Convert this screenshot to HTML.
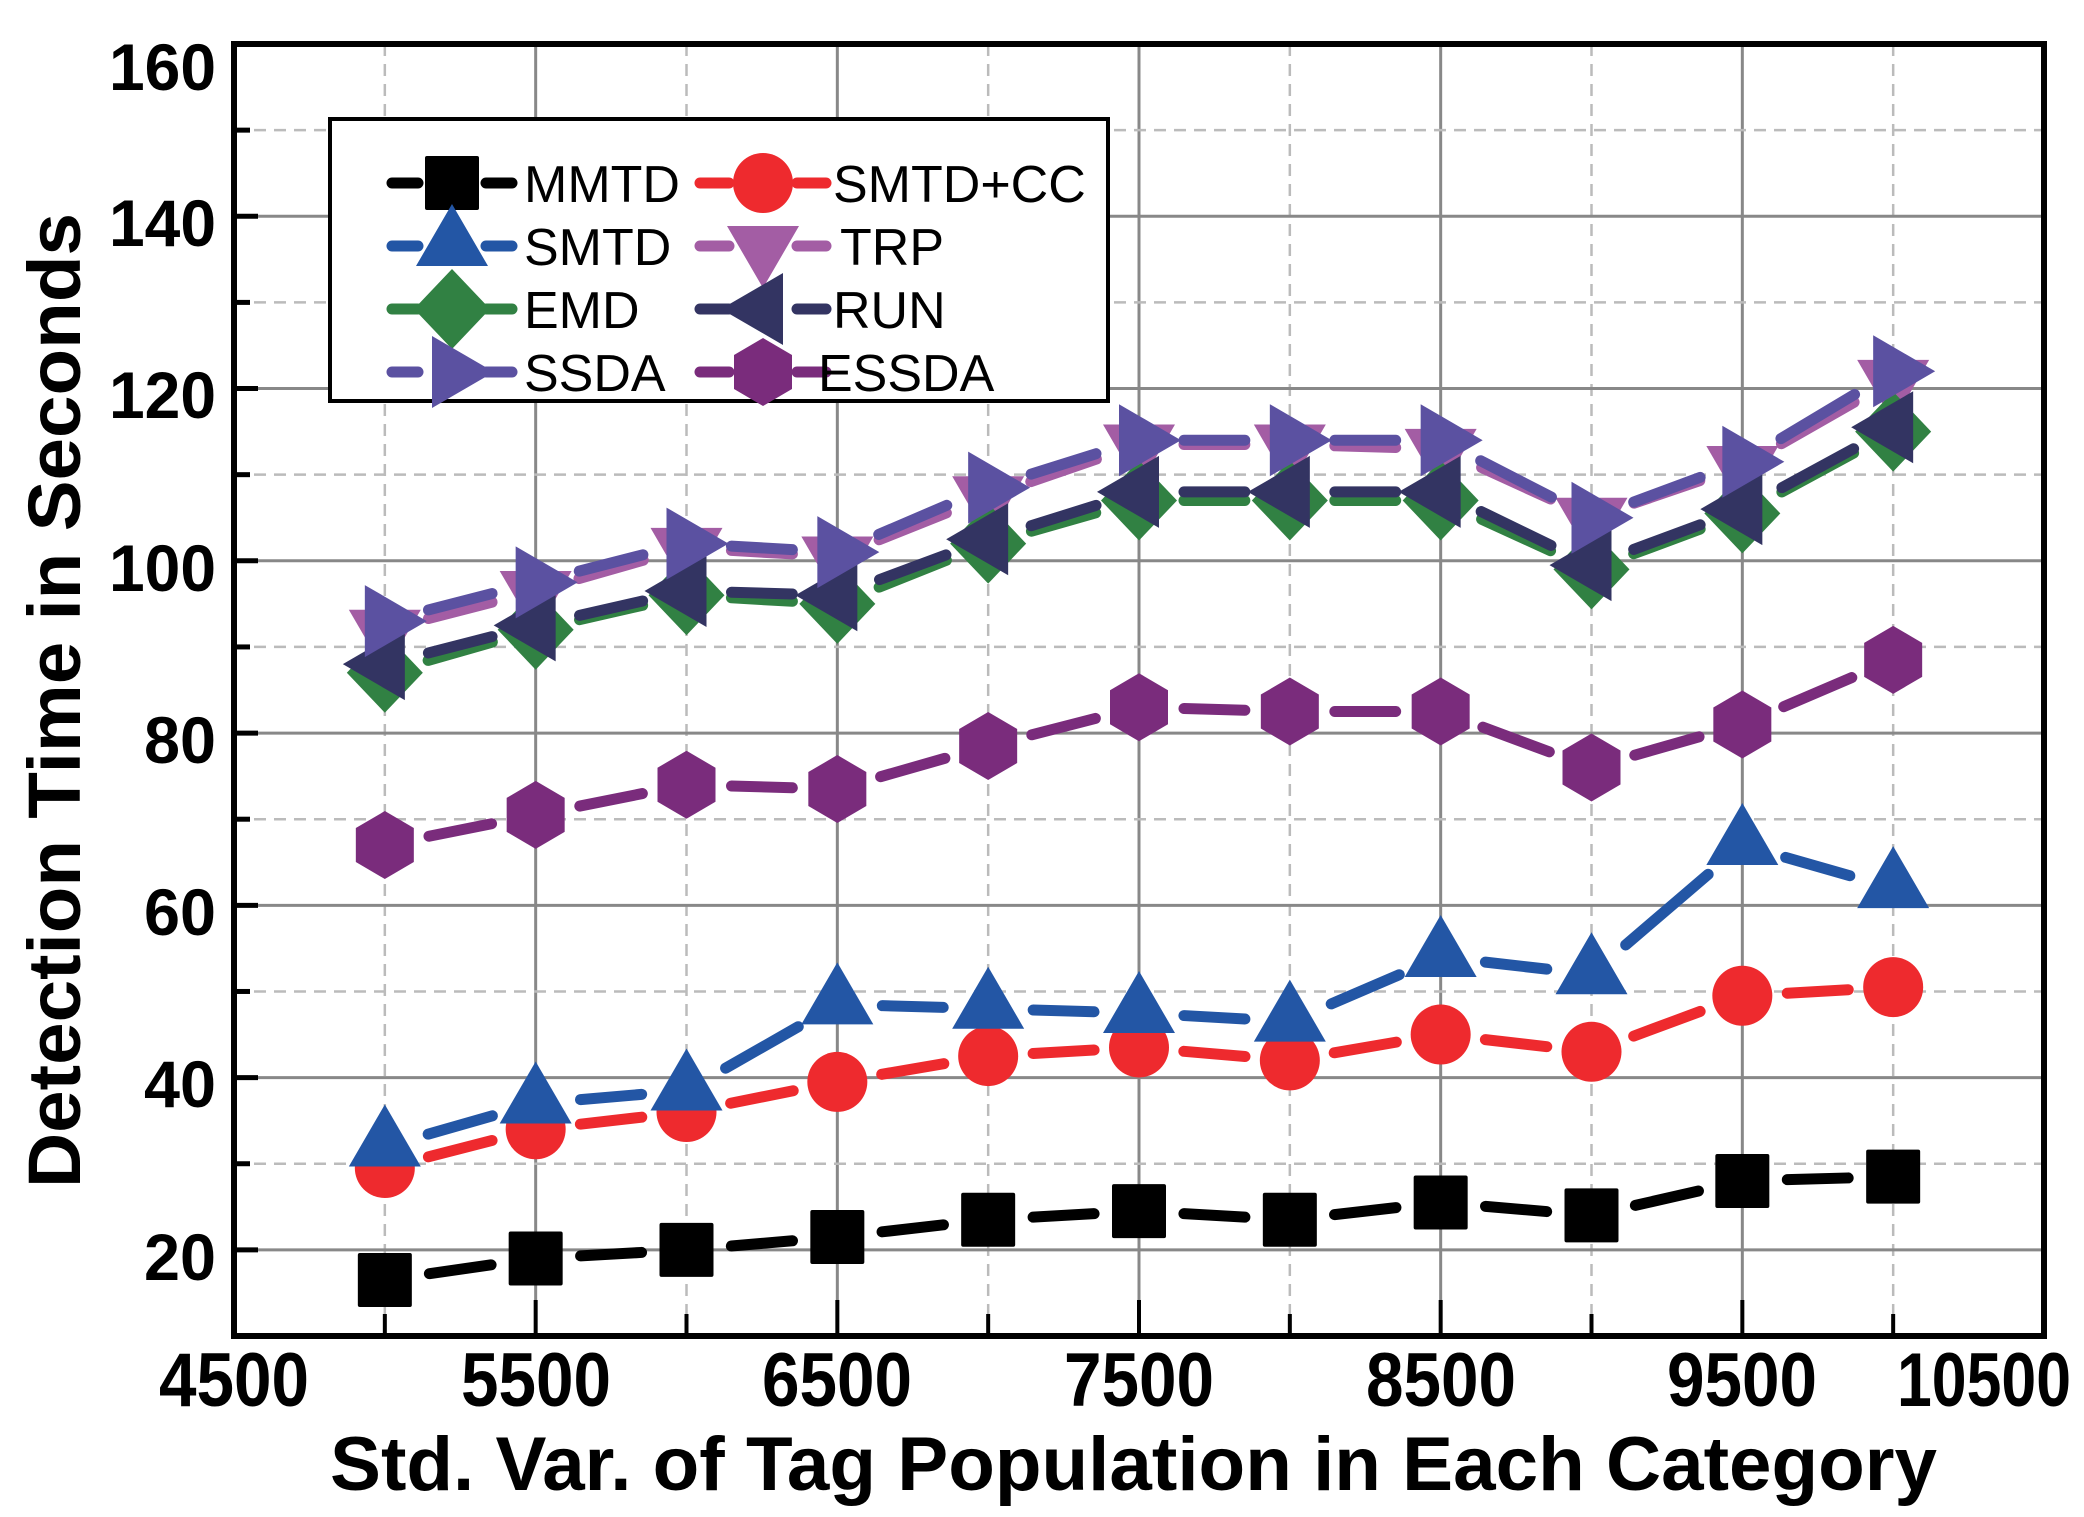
<!DOCTYPE html>
<html><head><meta charset="utf-8"><style>
html,body{margin:0;padding:0;background:#fff;}
svg{display:block;}
</style></head><body>
<svg id="s" width="2084" height="1517" viewBox="0 0 2084 1517" xmlns="http://www.w3.org/2000/svg" font-family="Liberation Sans, sans-serif">
<g id="grid"></g>
<g id="series"></g>
<rect x="234" y="44" width="1810" height="1292" fill="none" stroke="#000" stroke-width="6"/>
<g id="ticks"></g>
<g font-weight="bold" font-size="66" fill="#000" text-anchor="end" lengthAdjust="spacingAndGlyphs">
<text x="216" y="90" textLength="107" lengthAdjust="spacingAndGlyphs">160</text>
<text x="216" y="246" textLength="107" lengthAdjust="spacingAndGlyphs">140</text>
<text x="216" y="418" textLength="107" lengthAdjust="spacingAndGlyphs">120</text>
<text x="216" y="591" textLength="107" lengthAdjust="spacingAndGlyphs">100</text>
<text x="216" y="763" textLength="72" lengthAdjust="spacingAndGlyphs">80</text>
<text x="216" y="935" textLength="72" lengthAdjust="spacingAndGlyphs">60</text>
<text x="216" y="1107" textLength="72" lengthAdjust="spacingAndGlyphs">40</text>
<text x="216" y="1280" textLength="72" lengthAdjust="spacingAndGlyphs">20</text>
</g>
<g font-weight="bold" font-size="76" fill="#000" text-anchor="middle">
<text x="234" y="1406" textLength="150" lengthAdjust="spacingAndGlyphs">4500</text>
<text x="536" y="1406" textLength="150" lengthAdjust="spacingAndGlyphs">5500</text>
<text x="837" y="1406" textLength="150" lengthAdjust="spacingAndGlyphs">6500</text>
<text x="1139" y="1406" textLength="150" lengthAdjust="spacingAndGlyphs">7500</text>
<text x="1441" y="1406" textLength="150" lengthAdjust="spacingAndGlyphs">8500</text>
<text x="1742" y="1406" textLength="150" lengthAdjust="spacingAndGlyphs">9500</text>
<text x="1984" y="1406" textLength="174" lengthAdjust="spacingAndGlyphs">10500</text>
</g>
<text x="330" y="1490" font-weight="bold" font-size="76" textLength="1607" lengthAdjust="spacingAndGlyphs">Std. Var. of Tag Population in Each Category</text>
<text transform="translate(80,1188) rotate(-90)" font-weight="bold" font-size="74" textLength="975" lengthAdjust="spacingAndGlyphs">Detection Time in Seconds</text>
<rect x="330" y="119" width="778" height="282" fill="#fff" stroke="#000" stroke-width="4"/>
<g id="legend"></g>
<g font-size="52" fill="#000">
<text x="524" y="202">MMTD</text>
<text x="833" y="202">SMTD+CC</text>
<text x="524" y="265">SMTD</text>
<text x="840" y="265">TRP</text>
<text x="524" y="328">EMD</text>
<text x="833" y="328">RUN</text>
<text x="524" y="391">SSDA</text>
<text x="818" y="391">ESSDA</text>
</g>
</svg>
<script>
const NS="http://www.w3.org/2000/svg";
const X=v=>234+(v-4500)*1810/6000, Y=v=>1336-(v-10)*1292/150;
function el(p,t,a){const e=document.createElementNS(NS,t);for(const k in a)e.setAttribute(k,a[k]);p.appendChild(e);return e;}
const g=document.getElementById('grid'),tk=document.getElementById('ticks');
for(let v=5000;v<=10000;v+=500){const maj=(v%1000)==500;
 el(g,'line',{x1:X(v),x2:X(v),y1:44,y2:1336,stroke:maj?'#888':'#bbb','stroke-width':maj?3:2.5,'stroke-dasharray':maj?'':'12 8'});
 el(tk,'line',{x1:X(v),x2:X(v),y1:1336,y2:maj?1300:1314,stroke:'#000','stroke-width':4});}
for(let v=20;v<=150;v+=10){const maj=v%20==0;
 el(g,'line',{x1:234,x2:2044,y1:Y(v),y2:Y(v),stroke:maj?'#888':'#bbb','stroke-width':maj?3:2.5,'stroke-dasharray':maj?'':'12 8'});
 el(tk,'line',{x1:234,x2:maj?258:250,y1:Y(v),y2:Y(v),stroke:'#000','stroke-width':5});}
const xs=[5000,5500,6000,6500,7000,7500,8000,8500,9000,9500,10000];
const S=[
['sq','#000',[16.5,19,20,21.5,23.5,24.5,23.5,25.5,24,28,28.5]],
['ci','#ee2a2e',[29.5,34,36,39.5,42.5,43.5,42,45,43,49.5,50.5]],
['tu','#2356a5',[32,37,38.5,48.5,48,47.5,46.5,54,52,67,62]],
['td','#a35da4',[92,96.5,101.5,100.5,107.5,113.5,113.5,113,105,111,121]],
['di','#318143',[87,92,96,95,102,107,107,107,99,105.5,115]],
['tl','#333462',[88,92.5,96.5,96,102.5,108,108,108,99.5,106,115.5]],
['tr','#5b51a1',[93,97.5,102,101,108.5,114,114,114,105,111.5,122]],
['hx','#7a2c7c',[67,70.5,74,73.5,78.5,83,82.5,82.5,76,81,88.5]]];
function marker(p,t,c,x,y){
 if(t=='sq')el(p,'rect',{x:x-27,y:y-27,width:54,height:54,fill:c,rx:2});
 else if(t=='ci')el(p,'ellipse',{cx:x,cy:y,rx:30,ry:30,fill:c});
 else{let pts;
  if(t=='tu')pts=[[0,-42],[36,20],[-36,20]];
  if(t=='td')pts=[[0,42],[36,-20],[-36,-20]];
  if(t=='tl')pts=[[-42,0],[20,-36],[20,36]];
  if(t=='tr')pts=[[42,0],[-20,-36],[-20,36]];
  if(t=='di')pts=[[0,-40],[38,0],[0,40],[-38,0]];
  if(t=='hx')pts=[[0,-34],[29,-17],[29,17],[0,34],[-29,17],[-29,-17]];
  el(p,'polygon',{points:pts.map(q=>(x+q[0])+','+(y+q[1])).join(' '),fill:c});}
}
function seg(p,c,x1,y1,x2,y2,g1,g2){const dx=x2-x1,dy=y2-y1,L=Math.hypot(dx,dy);if(L<g1+g2+5)return;
 const ux=dx/L,uy=dy/L;el(p,'line',{x1:x1+ux*g1,y1:y1+uy*g1,x2:x2-ux*g2,y2:y2-uy*g2,stroke:c,'stroke-width':11,'stroke-linecap':'round'});}
const sg=document.getElementById('series');
S.forEach(([t,c,d])=>{const gg=el(sg,'g',{});
 for(let i=0;i<10;i++)seg(gg,c,X(xs[i]),Y(d[i]),X(xs[i+1]),Y(d[i+1]),45,45);
 d.forEach((v,i)=>marker(gg,t,c,X(xs[i]),Y(v)));});
const lg=document.getElementById('legend');
const L=[[0,0],[1,0],[0,1],[1,1],[0,2],[1,2],[0,3],[1,3]];
[0,1,2,3,4,5,6,7].forEach((k,i)=>{const [t,c]=S[k];const col=L[i][0],row=L[i][1];
 const cx=col?763:452, cy=183+row*63, x1=col?700:392, x2=col?826:512;
 el(lg,'line',{x1:x1,x2:cx-34,y1:cy,y2:cy,stroke:c,'stroke-width':11,'stroke-linecap':'round'});
 el(lg,'line',{x1:cx+34,x2:x2,y1:cy,y2:cy,stroke:c,'stroke-width':11,'stroke-linecap':'round'});
 marker(lg,t,c,cx,cy);});
</script>
</body></html>
